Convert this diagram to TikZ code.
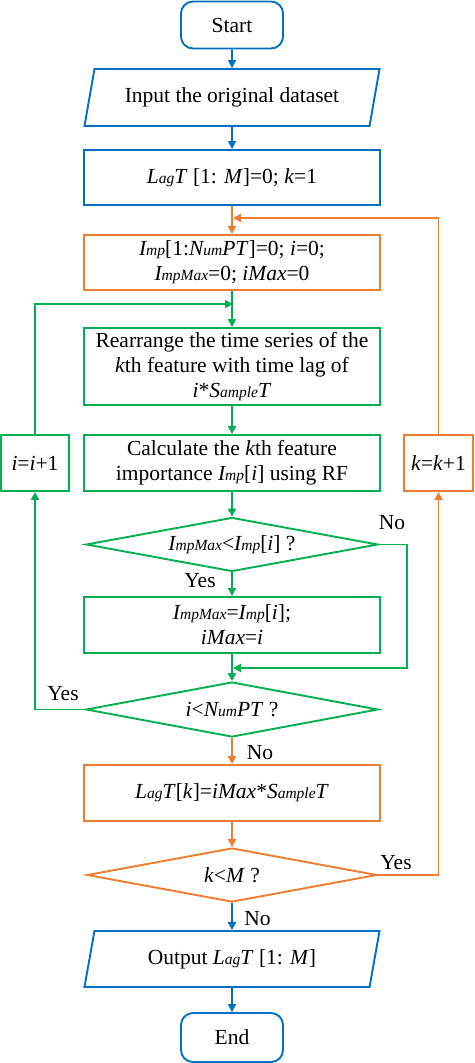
\documentclass[tikz,border=0pt]{standalone}
\usepackage{fontspec}
\setmainfont{Liberation Serif}
\usetikzlibrary{shapes.geometric,arrows.meta}
\definecolor{fcblue}{RGB}{0,112,192}
\definecolor{fcorange}{RGB}{237,125,49}
\definecolor{fcgreen}{RGB}{0,176,80}
\def\sm#1{{\fontsize{15.5}{25}\selectfont #1}}
\def\Imp{\textit{I\sm{mp}}}
\def\ImpMax{\textit{I\sm{mpMax}}}
\def\NumPT{\textit{N\sm{um}PT}}
\def\SampleT{\textit{S\sm{ample}T}}
\def\LagT{\textit{L\sm{ag}T}}
\tikzset{
	box/.style={draw, rectangle, line width=1.9pt, minimum width=296pt, inner sep=0pt, align=center},
	io/.style={draw, trapezium, trapezium left angle=63, trapezium right angle=117, trapezium stretches body, line width=1.9pt, minimum width=295pt, minimum height=57pt, inner sep=0pt},
	term/.style={draw, rectangle, rounded corners=12pt, line width=1.9pt, minimum width=102pt, minimum height=47pt},
	test/.style={draw, diamond, aspect=5, line width=1.9pt, minimum width=292pt, minimum height=54pt, inner sep=0pt},
	flow/.style={line width=1.9pt, -{Triangle[length=8pt,width=8pt]}},
	lbl/.style={inner sep=0pt}
}

\begin{document}
\begin{tikzpicture}[x=1pt, y=-1pt, font=\fontsize{21.5}{25}\selectfont]
		%%%%% START %%%%%
		\useasboundingbox (0, 0) rectangle (474, 1063);
		
		\node[term, draw=fcblue] (start) at (232, 25) {Start};
		\node[io, draw=fcblue] (input) at (232, 97.5) {Input the original dataset};
		\node[box, draw=fcblue, minimum height=55pt] (init) at (232, 177.5) {\LagT\ [1: \textit{M}]=0; \textit{k}=1};
		
		\node[box, draw=fcorange, minimum height=55pt] (imp) at (232, 262.5) {\Imp[1:\NumPT]=0; \textit{i}=0;\\ \ImpMax=0; \textit{iMax}=0};
		
		\node[box, draw=fcgreen, minimum height=77pt] (rearr) at (232, 366.5) {Rearrange the time series of the\\ \textit{k}th feature with time lag of\\ \textit{i}*\SampleT};
		\node[box, draw=fcgreen, minimum height=56pt] (calc) at (232, 463) {Calculate the \textit{k}th feature\\ importance \Imp[\textit{i}] using RF};
		\node[box, draw=fcgreen, minimum width=68pt, minimum height=56pt] (incI) at (35, 463) {\textit{i}=\textit{i}+1};
		\node[box, draw=fcorange, minimum width=69pt, minimum height=56pt] (incK) at (438.5, 463) {\textit{k}=\textit{k}+1};
		
		\node[test, draw=fcgreen] (cmp) at (232, 544.5) {\ImpMax<\Imp[\textit{i}] ?};
		\node[box, draw=fcgreen, minimum height=56pt] (upd) at (232, 625) {\ImpMax=\Imp[\textit{i}];\\ \textit{iMax}=\textit{i}};
		\node[test, draw=fcgreen, minimum height=55pt] (cond) at (232, 709.5) {\textit{i}<\NumPT\ ?};
		
		\node[box, draw=fcorange, minimum height=56pt] (lagk) at (232, 793) {\LagT[\textit{k}]=\textit{iMax}*\SampleT};
		\node[test, draw=fcorange, minimum width=290pt] (loop) at (232, 875) {\textit{k}<\textit{M} ?};
		
		\node[io, draw=fcblue, minimum height=56pt] (output) at (232, 959) {Output \LagT\ [1: \textit{M}]};
		\node[term, draw=fcblue, minimum height=49pt] (end) at (232, 1037.5) {End};
		
		% labels
		\node[lbl] (yesA) at (200, 581) {Yes};
		\node[lbl] (noA) at (392, 523) {No};
		\node[lbl] (yesB) at (63, 694) {Yes};
		\node[lbl] (noB) at (260, 753) {No};
		\node[lbl] (yesC) at (396, 863) {Yes};
		\node[lbl] (noC) at (257.5, 919) {No};
		
		% joins
		\coordinate (kjoin) at (233, 218);
		\coordinate (ijoin) at (233, 304);
		\coordinate (nocorner) at (407, 668);
		\coordinate (nojoin) at (233, 668);
		
		% connectors
		\draw[flow, fcblue] (start) -- (input);
		\draw[flow, fcblue] (input) -- (init);
		\draw[flow, fcorange] (init) -- (imp);
		\draw[flow, fcorange] (incK.north) |- (kjoin);
		\draw[flow, fcgreen] (imp) -- (rearr);
		\draw[flow, fcgreen] (incI.north) |- (ijoin);
		\draw[flow, fcgreen] (rearr) -- (calc);
		\draw[flow, fcgreen] (calc) -- (cmp);
		\draw[flow, fcgreen] (cmp) -- (upd);
		\draw[flow, fcgreen] (cmp.east) -| (nocorner) -- (nojoin);
		\draw[flow, fcgreen] (upd) -- (cond);
		\draw[flow, fcgreen] (cond.west) -| (incI.south);
		\draw[flow, fcorange] (cond) -- (lagk);
		\draw[flow, fcorange] (lagk) -- (loop);
		\draw[flow, fcorange] (loop.east) -| (incK.south);
		\draw[flow, fcblue] (loop) -- (output);
		\draw[flow, fcblue] (output) -- (end);
		
		%%%%% END %%%%%
\end{tikzpicture}
\end{document}
